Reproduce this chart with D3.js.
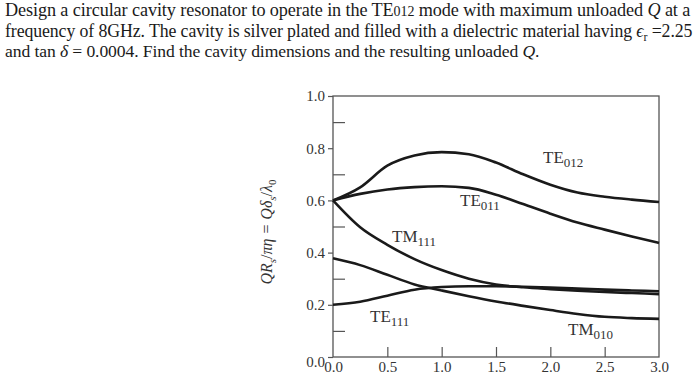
<!DOCTYPE html>
<html>
<head>
<meta charset="utf-8">
<script src="https://cdn.jsdelivr.net/npm/d3@7"></script>
<style>
  body { margin: 0; background: #fff; }
  svg { display: block; font-family: "Liberation Serif", "Times New Roman", serif; }
</style>
</head>
<body>
<div id="chart"></div>
<script>
// sample positions along the x axis (a/d ratio)
const xs = [0, 0.25, 0.5, 0.75, 1.0, 1.25, 1.5, 1.75, 2.0, 2.25, 2.5, 2.75, 3.0];

// Q * Rs / (pi * eta) for each mode
const te012 = [0.600, 0.650, 0.733, 0.772, 0.785, 0.777, 0.745, 0.700, 0.660, 0.630, 0.614, 0.603, 0.594];
const te011 = [0.600, 0.625, 0.642, 0.651, 0.654, 0.648, 0.622, 0.586, 0.549, 0.515, 0.488, 0.462, 0.437];
const tm111 = [0.600, 0.497, 0.430, 0.375, 0.333, 0.300, 0.278, 0.267, 0.260, 0.254, 0.249, 0.245, 0.241];
const te111 = [0.200, 0.212, 0.235, 0.258, 0.268, 0.271, 0.271, 0.269, 0.266, 0.262, 0.258, 0.255, 0.252];
const tm010 = [0.378, 0.352, 0.315, 0.278, 0.255, 0.233, 0.213, 0.196, 0.180, 0.165, 0.154, 0.149, 0.146];

const yTicks = [0.0, 0.2, 0.4, 0.6, 0.8, 1.0];
const yMinor = [0.1, 0.3, 0.5, 0.7, 0.9];
const xTicks = [0.0, 0.5, 1.0, 1.5, 2.0, 2.5, 3.0];

const series = [te012, te011, tm111, te111, tm010];

const W = 700, H = 384;
const svg = d3.select("#chart").append("svg")
    .attr("width", W)
    .attr("height", H);

// problem statement at the top
const lines = [
    { parts: [["Design a circular cavity resonator to operate in the TE"], ["012", "small"], [" mode with maximum unloaded "], ["Q", "it"], [" at a"]], y: 16, fs: 18.2 },
    { parts: [["frequency of 8GHz. The cavity is silver plated and filled with a dielectric material having "], ["\u03F5", "it"], ["r", "sub"], [" =2.25", "up"]], y: 37, fs: 17.8 },
    { parts: [["and tan "], ["\u03B4", "it"], [" = 0.0004. Find the cavity dimensions and the resulting unloaded "], ["Q", "it"], ["."]], y: 57, fs: 17.6 }
];

lines.forEach(l => {
    const t = svg.append("text")
        .attr("x", 5)
        .attr("y", l.y)
        .style("font-size", l.fs + "px")
        .style("letter-spacing", "-0.1px")
        .style("fill", "#1a1a1a");
    l.parts.forEach(p => {
        const ts = t.append("tspan").text(p[0]);
        if (p[1] === "it") ts.style("font-style", "italic");
        if (p[1] === "small") ts.style("font-size", "14px");
        if (p[1] === "sub") ts.style("font-size", "12px").attr("dy", 4);
        if (p[1] === "up") ts.attr("dy", -4);
    });
});

const x = d3.scaleLinear().domain([0, 3]).range([333, 659]);
const y = d3.scaleLinear().domain([0, 1]).range([357, 96]);

// frame
svg.append("rect")
    .attr("x", x(0))
    .attr("y", y(1))
    .attr("width", x(3) - x(0))
    .attr("height", y(0) - y(1))
    .attr("fill", "none")
    .attr("stroke", "#555")
    .attr("stroke-width", 1.3);

// left axis with labels, short outer ticks
const yAxis = svg.append("g")
    .attr("transform", `translate(${x(0)},0)`)
    .call(d3.axisLeft(y).tickValues(yTicks).tickSize(5).tickPadding(3).tickFormat(d3.format(".1f")));

// inner minor ticks
svg.append("g")
    .attr("transform", `translate(${x(0)},0)`)
    .call(d3.axisRight(y).tickValues(yMinor).tickSize(12).tickFormat(""));

// bottom axis: inward ticks + labels
svg.append("g")
    .attr("transform", `translate(0,${y(0)})`)
    .call(d3.axisTop(x).tickValues(xTicks.slice(1, -1)).tickSize(10).tickFormat(""));

const xAxis = svg.append("g")
    .attr("transform", `translate(0,${y(0)})`)
    .call(d3.axisBottom(x).tickValues(xTicks).tickSize(0).tickPadding(4).tickFormat(d3.format(".1f")));

svg.selectAll(".domain").remove();
svg.selectAll(".tick line").attr("stroke", "#555").attr("stroke-width", 1.2);
svg.selectAll(".tick text")
    .style("font-family", "'Liberation Serif', 'Times New Roman', serif")
    .style("font-size", "15px")
    .attr("fill", "#333");

// y 0.0 label sits a little lower, as in the figure
yAxis.selectAll(".tick text").filter(d => d === 0).attr("dy", "0.65em");

// y axis title
const yt = svg.append("text")
    .attr("transform", `translate(272,232) rotate(-90)`)
    .attr("text-anchor", "middle")
    .style("font-size", "16px")
    .style("fill", "#333");
yt.append("tspan").style("font-style", "italic").text("QR");
yt.append("tspan").style("font-style", "italic").style("font-size", "11px").attr("dy", 4).text("s");
yt.append("tspan").attr("dy", -4).text("/");
yt.append("tspan").style("font-style", "italic").text("\u03C0\u03B7 = Q\u03B4");
yt.append("tspan").style("font-style", "italic").style("font-size", "11px").attr("dy", 4).text("s");
yt.append("tspan").attr("dy", -4).text("/");
yt.append("tspan").style("font-style", "italic").text("\u03BB");
yt.append("tspan").style("font-size", "11px").attr("dy", 4).text("0");

// curves
const line = d3.line()
    .x((d, i) => x(xs[i]))
    .y(d => y(d))
    .curve(d3.curveMonotoneX);

svg.selectAll(".curve")
    .data(series)
    .enter().append("path")
    .attr("class", "curve")
    .attr("d", line)
    .attr("fill", "none")
    .attr("stroke", "#1a1a1a")
    .attr("stroke-width", 2.6);

// mode labels
const labels = [
    { main: "TE", sub: "012", px: 543, py: 163 },
    { main: "TE", sub: "011", px: 460, py: 206 },
    { main: "TM", sub: "111", px: 392, py: 242 },
    { main: "TE", sub: "111", px: 370, py: 322 },
    { main: "TM", sub: "010", px: 568, py: 335 }
];

labels.forEach(l => {
    const t = svg.append("text")
        .attr("x", l.px)
        .attr("y", l.py)
        .style("font-size", "17px")
        .style("fill", "#333");
    t.append("tspan").text(l.main);
    t.append("tspan").attr("dy", 4).style("font-size", "13px").text(l.sub);
});
</script>
</body>
</html>
